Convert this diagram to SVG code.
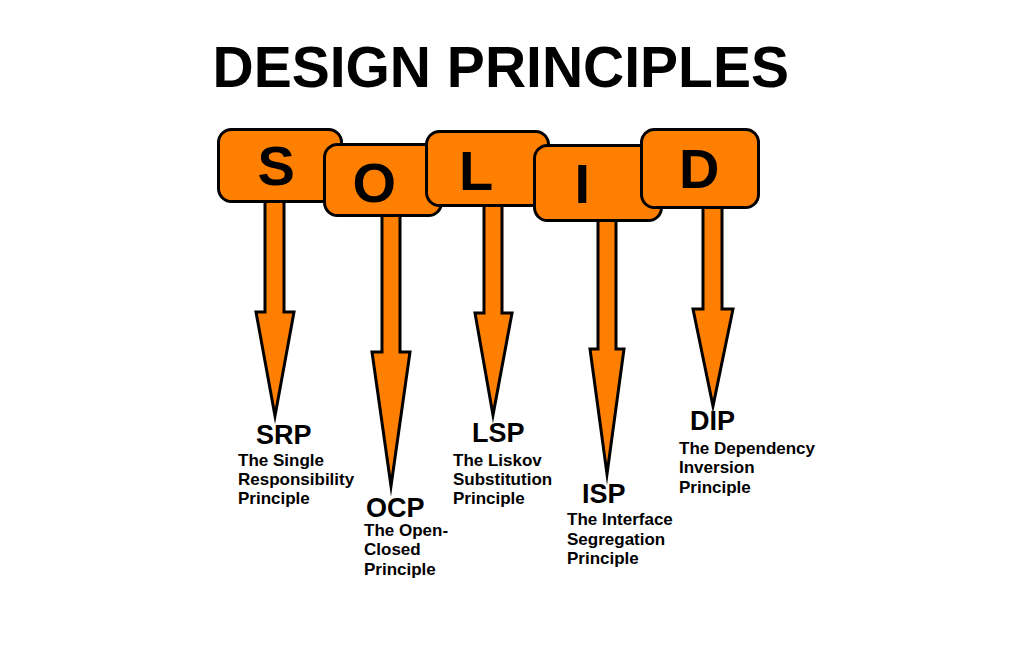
<svg xmlns="http://www.w3.org/2000/svg" width="1020" height="658" viewBox="0 0 1020 658">
<style>
.box{fill:#FF8000;stroke:#000;stroke-width:3}
.arr{fill:#FF8000;stroke:#000;stroke-width:3;stroke-linejoin:miter;stroke-miterlimit:10}
.t{font-family:"Liberation Sans",Arial,sans-serif;font-weight:bold;fill:#000}
.letter{font-size:56px}
.abbr{font-size:27px}
.desc{font-size:17px}
</style>
<rect width="1020" height="658" fill="#fff"/>
<text id="title" class="t" x="212.5" y="87" font-size="57">DESIGN PRINCIPLES</text>
<g id="connectors">
<polygon class="arr" points="265,200 284,200 284,312 294,312 275,416 256,312 265,312"/>
<polygon class="arr" points="382,214 400,214 400,352 410,352 391,486 372,352 382,352"/>
<polygon class="arr" points="484,204 502,204 502,313 512,313 493,415 475,313 484,313"/>
<polygon class="arr" points="598,218 616,218 616,349 624,349 607,474 590,349 598,349"/>
<polygon class="arr" points="703,205 722,205 722,309 733,309 713,406 693,309 703,309"/>
</g>
<g id="node-S">
<rect class="box" x="218.5" y="129.5" width="123" height="72" rx="13"/>
<text class="t letter" x="257.5" y="185">S</text>
</g>
<g id="node-O">
<rect class="box" x="324.5" y="144.5" width="117" height="71" rx="13"/>
<text class="t letter" x="352.5" y="202">O</text>
</g>
<g id="node-L">
<rect class="box" x="426.5" y="131.5" width="122" height="74" rx="13"/>
<text class="t letter" x="459" y="190">L</text>
</g>
<g id="node-I">
<rect class="box" x="534.5" y="145.5" width="127" height="75" rx="13"/>
<text class="t letter" x="574.5" y="203">I</text>
</g>
<g id="node-D">
<rect class="box" x="641.5" y="129.5" width="117" height="78" rx="13"/>
<text class="t letter" x="679" y="188">D</text>
</g>
<g id="label-SRP">
<text class="t abbr" x="256" y="444">SRP</text>
<text class="t desc" x="238" y="466">The Single</text>
<text class="t desc" x="238" y="485">Responsibility</text>
<text class="t desc" x="238" y="504">Principle</text>
</g>
<g id="label-OCP">
<text class="t abbr" x="366" y="517">OCP</text>
<text class="t desc" x="364" y="536">The Open-</text>
<text class="t desc" x="364" y="555">Closed</text>
<text class="t desc" x="364" y="575">Principle</text>
</g>
<g id="label-LSP">
<text class="t abbr" x="472" y="442">LSP</text>
<text class="t desc" x="453" y="466">The Liskov</text>
<text class="t desc" x="453" y="485">Substitution</text>
<text class="t desc" x="453" y="504">Principle</text>
</g>
<g id="label-ISP">
<text class="t abbr" x="582" y="503">ISP</text>
<text class="t desc" x="567" y="525">The Interface</text>
<text class="t desc" x="567" y="545">Segregation</text>
<text class="t desc" x="567" y="564">Principle</text>
</g>
<g id="label-DIP">
<text class="t abbr" x="690" y="430">DIP</text>
<text class="t desc" x="679" y="454">The Dependency</text>
<text class="t desc" x="679" y="473">Inversion</text>
<text class="t desc" x="679" y="493">Principle</text>
</g>
</svg>
